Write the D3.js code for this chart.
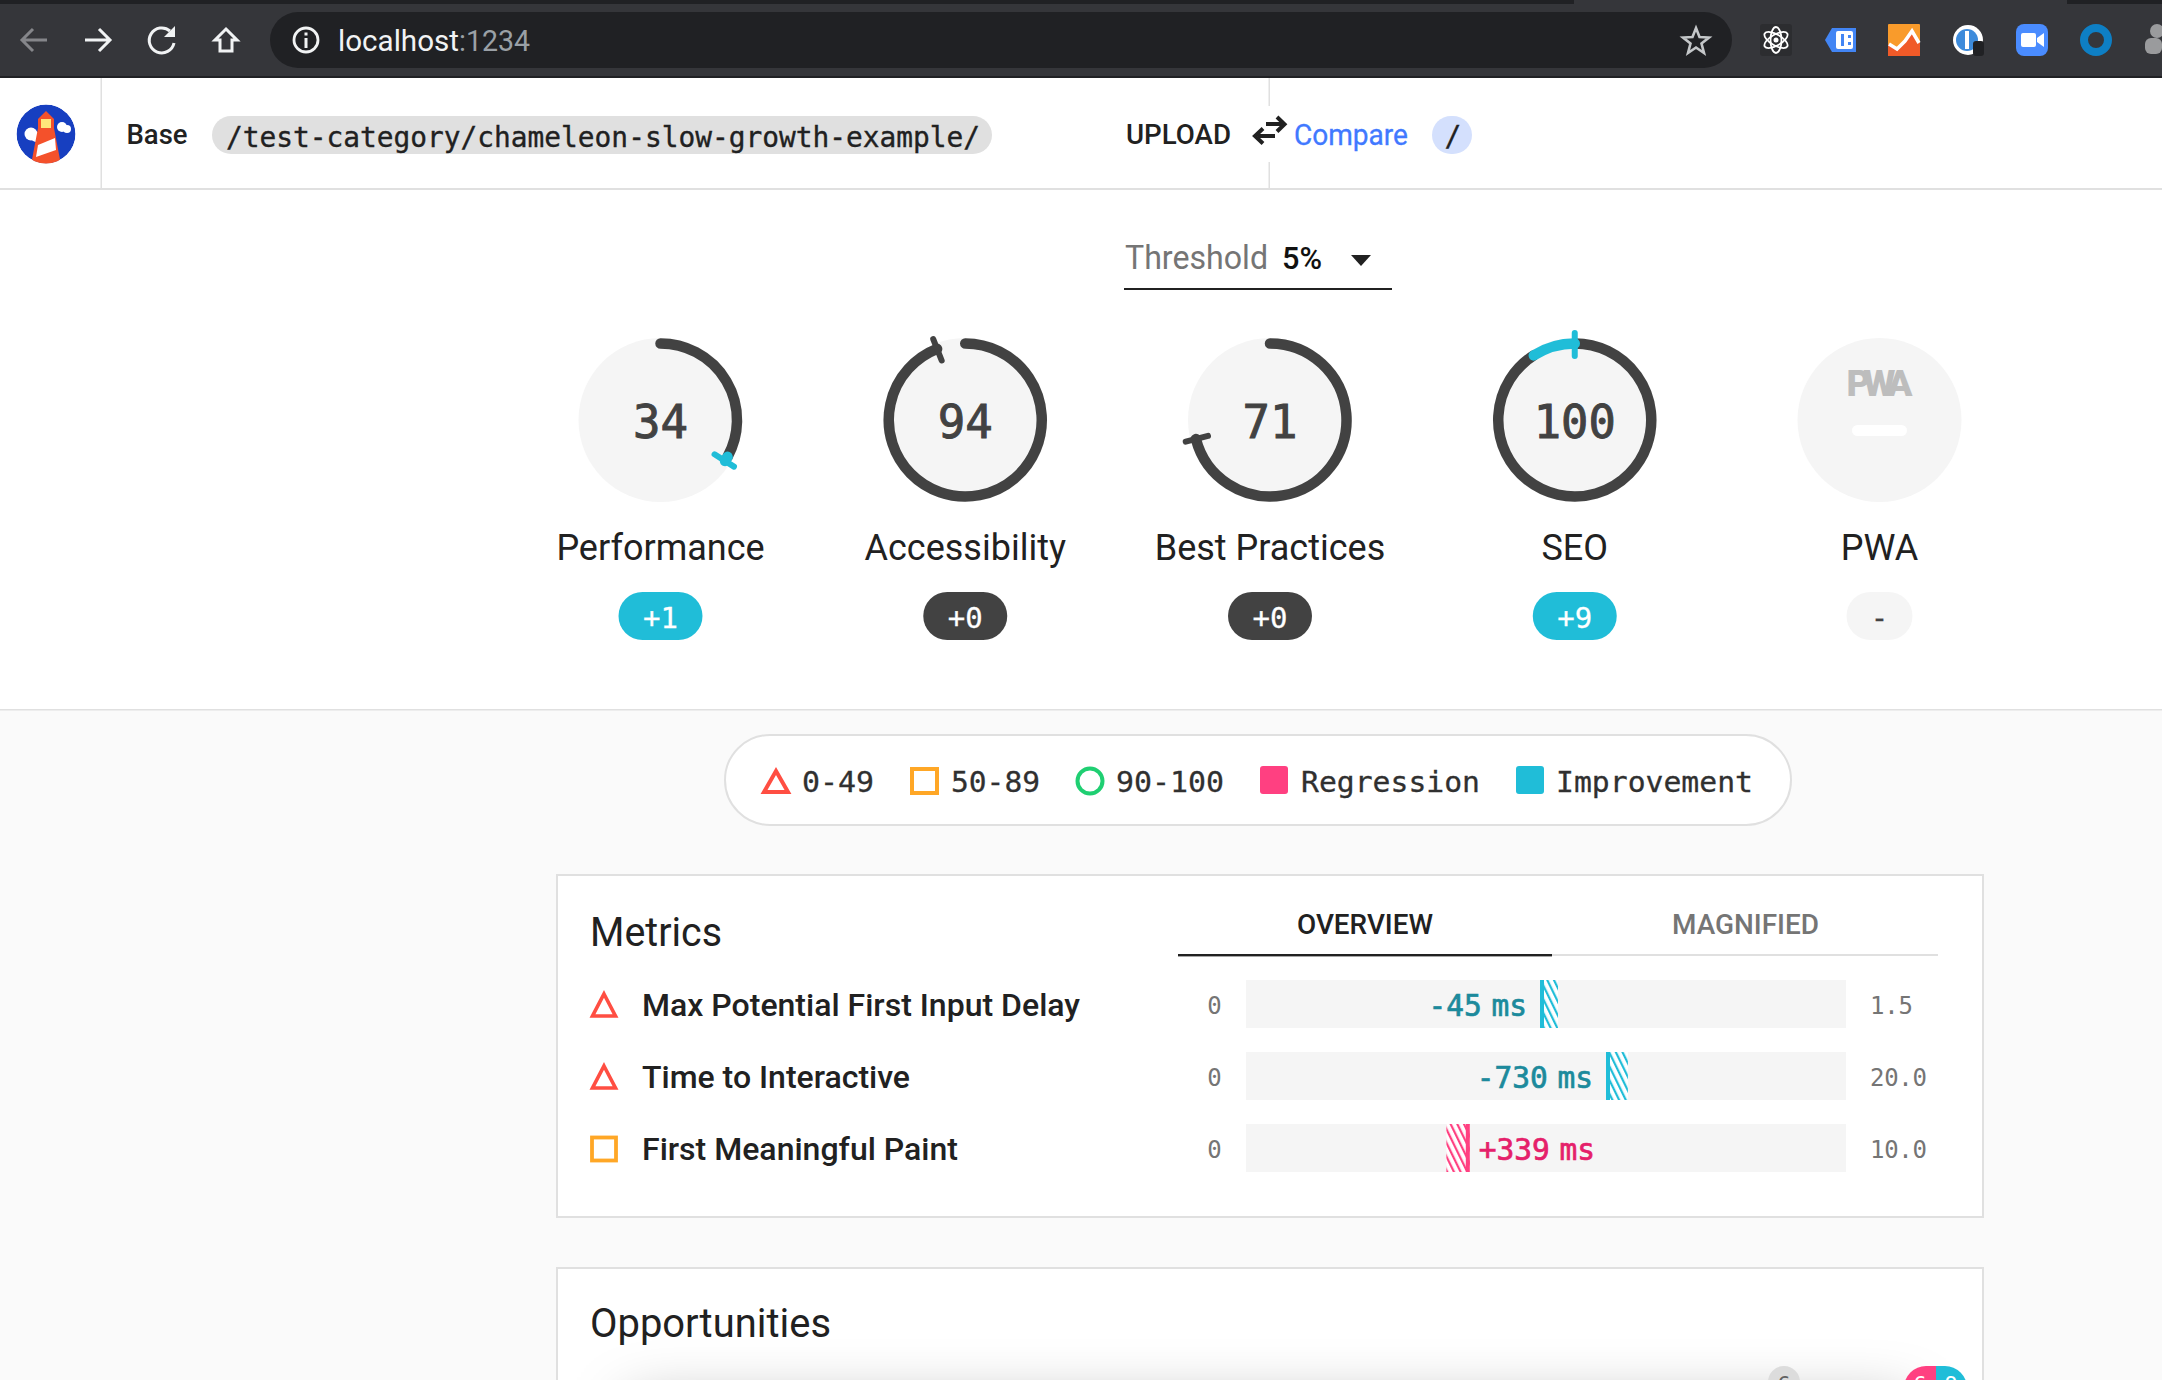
<!DOCTYPE html>
<html><head><meta charset="utf-8">
<script src="https://cdn.jsdelivr.net/npm/d3@7/dist/d3.min.js"></script>
<style>html,body{margin:0;padding:0;background:#fff;overflow:hidden}svg{display:block}</style>
</head><body><div id="c"></div>
<script>
const categories=["Performance","Accessibility","Best Practices","SEO","PWA"];
const scores=[34,94,71,100,null];
const diffs=[1,0,0,9,null];
const diffLabels=["+1","+0","+0","+9","-"];
const legendRanges=["0-49","50-89","90-100"];
const legendChanges=["Regression","Improvement"];
const metricNames=["Max Potential First Input Delay","Time to Interactive","First Meaningful Paint"];
const metricRating=["fail","fail","average"];
const metricCurrent=[0.735,12.0,3.73];
const metricBase=[0.78,12.73,3.34];
const metricMax=[1.5,20,10];
const metricMaxLabels=["1.5","20.0","10.0"];
const metricDeltaLabels=["-45 ms","-730 ms","+339 ms"];

const SANS="Roboto, sans-serif", MONO="'DejaVu Sans Mono', monospace";
const C={dark:"#424242",teal:"#20bdd8",pink:"#ff4081",red:"#ff4e42",orange:"#ffa726",green:"#1fcf72",gray:"#f5f5f5",line:"#e0e0e0",ink:"#212121"};
const svg=d3.select("#c").append("svg").attr("width",2162).attr("height",1380);
const defs=svg.append("defs");
function hatch(id,col){
  const p=defs.append("pattern").attr("id",id).attr("patternUnits","userSpaceOnUse").attr("width",6).attr("height",10).attr("patternTransform","rotate(-26)");
  p.append("rect").attr("width",6).attr("height",10).attr("fill","#fff");
  p.append("rect").attr("width",2.2).attr("height",10).attr("fill",col);
}
hatch("hTeal",C.teal);hatch("hPink",C.pink);
defs.append("filter").attr("id","blur").attr("x","-20%").attr("y","-100%").attr("width","140%").attr("height","300%").append("feGaussianBlur").attr("stdDeviation",30);
defs.append("clipPath").attr("id","logoClip").append("circle").attr("cx",46).attr("cy",134).attr("r",29.5);
defs.append("clipPath").attr("id","pillClip").append("rect").attr("x",1904).attr("y",1366).attr("width",63).attr("height",48).attr("rx",22).attr("ry",22);

function rect(g,x,y,w,h,fill,r,stroke,sw){const s=g.append("rect").attr("x",x).attr("y",y).attr("width",w).attr("height",h).attr("fill",fill);if(r)s.attr("rx",r).attr("ry",r);if(stroke)s.attr("stroke",stroke).attr("stroke-width",sw);return s;}
function text(g,x,y,str,o={}){
  const t=g.append("text").attr("x",x).attr("y",y).text(str).attr("font-family",o.f||SANS).attr("font-size",o.s||28).attr("fill",o.c||C.ink).attr("font-weight",o.w||400).attr("text-anchor",o.a||"start");
  if(o.len){t.attr("textLength",o.len).attr("lengthAdjust",o.adj||"spacingAndGlyphs");}
  if(o.heavy){t.attr("stroke",o.c||C.ink).attr("stroke-width",o.heavy);}
  if(o.ws){t.attr("word-spacing",o.ws);}
  return t;
}
function path(g,d,o={}){return g.append("path").attr("d",d).attr("fill",o.fill||"none").attr("stroke",o.stroke||"none").attr("stroke-width",o.sw||0).attr("stroke-linecap",o.cap||"butt").attr("stroke-linejoin",o.join||"miter");}

// page backgrounds
rect(svg,0,0,2162,1380,"#fff");
rect(svg,0,709,2162,671,"#fafafa");
rect(svg,0,709,2162,1.5,C.line);

// browser chrome
const chrome=svg.append("g");
rect(chrome,0,0,2162,78,"#35363a");
rect(chrome,0,0,1574,4,"#202124");
rect(chrome,2067,0,95,4,"#202124");
rect(chrome,0,76,2162,2,"#202124");
rect(chrome,270,12,1462,56,"#202124",28);
path(chrome,"M47,40H23M33,29L22,40L33,51",{stroke:"#85868a",sw:3});
path(chrome,"M85,40H109M99,29L110,40L99,51",{stroke:"#f1f3f4",sw:3});
path(chrome,"M170,31A12.5,12.5 0 1 0 174,43",{stroke:"#f1f3f4",sw:3});
path(chrome,"M175,26V37H164Z",{fill:"#f1f3f4"});
path(chrome,"M226,29L237,40H232V51H220V40H215Z",{stroke:"#f1f3f4",sw:3});
chrome.append("circle").attr("cx",306).attr("cy",40).attr("r",12).attr("fill","none").attr("stroke","#f1f3f4").attr("stroke-width",2.8);
rect(chrome,304.5,38,3,10,"#f1f3f4");rect(chrome,304.5,32.5,3,3,"#f1f3f4");
text(chrome,338,51,"localhost",{s:30,c:"#f1f3f4",len:121});
text(chrome,459,51,":1234",{s:30,c:"#9aa0a6",len:71});
path(chrome,"M1696,28L1699.5,37L1709,37.5L1701.5,43.5L1704,53L1696,47.5L1688,53L1690.5,43.5L1683,37.5L1692.5,37Z",{stroke:"#c4c7c9",sw:2.6});
// extension icons
const ext=chrome.append("g");
rect(ext,1760,24,32,32,"#2c2d30",3);
[0,60,120].forEach(a=>ext.append("ellipse").attr("cx",1776).attr("cy",40).attr("rx",13).attr("ry",5.5).attr("fill","none").attr("stroke","#fff").attr("stroke-width",1.8).attr("transform",`rotate(${a+30} 1776 40)`));
ext.append("circle").attr("cx",1776).attr("cy",40).attr("r",2.5).attr("fill","#fff");
path(ext,"M1825,40L1832,28H1856V52H1832Z",{fill:"#4285f4"});
rect(ext,1836,31,17,18,"#fff",2);rect(ext,1848,35,3,3,"#4285f4");rect(ext,1848,42,3,3,"#4285f4");rect(ext,1841,34,3,12,"#4285f4");
rect(ext,1888,24,32,32,"#f99b2b",1);
path(ext,"M1888,56V44L1896,49L1904,42L1912,30L1920,42V56Z",{fill:"#f05a28"});
path(ext,"M1889,44L1897,49L1905,41L1912,31L1919,43",{stroke:"#fff",sw:3.5});
ext.append("circle").attr("cx",1968).attr("cy",40).attr("r",15).attr("fill","#fff");
ext.append("circle").attr("cx",1967).attr("cy",40).attr("r",11).attr("fill","#3d8bdb");
rect(ext,1965,31,4,18,"#fff");
rect(ext,1973,41,11,15,"#202124",3);
rect(ext,2016,24,32,32,"#4a8cff",8);
rect(ext,2021,33,15,14,"#fff",2);path(ext,"M2037,38L2044,33V47L2037,42Z",{fill:"#fff"});
ext.append("circle").attr("cx",2096).attr("cy",40).attr("r",12).attr("fill","none").attr("stroke","#0e7fc4").attr("stroke-width",8);
ext.append("circle").attr("cx",2157).attr("cy",31).attr("r",7).attr("fill","#9a9b9d");
rect(ext,2145,38,17,16,"#9a9b9d",6);

// header
const head=svg.append("g");
rect(head,0,188,2162,2,C.line);
rect(head,100.5,78,1.5,110,C.line);
rect(head,1268.5,78,1.5,28,C.line);rect(head,1268.5,162,1.5,26,C.line);
const logo=head.append("g").attr("clip-path","url(#logoClip)");
logo.append("circle").attr("cx",46).attr("cy",134).attr("r",29.5).attr("fill","#173fc0");
logo.append("circle").attr("cx",31).attr("cy",134).attr("r",6.5).attr("fill","#fff");
logo.append("circle").attr("cx",36).attr("cy",137).attr("r",5).attr("fill","#fff");
logo.append("circle").attr("cx",62).attr("cy",127).attr("r",5).attr("fill","#fff");
logo.append("circle").attr("cx",67).attr("cy",129).attr("r",4).attr("fill","#fff");
path(logo,"M46,111L54,119V128L62,170H30L38,128V119Z",{fill:"#f4512b"});
rect(logo,41,119,10,9,"#ffe57a");
path(logo,"M38,145L55,138L56,150L36,157Z",{fill:"#fff"});
text(head,126.5,144,"Base",{s:27,w:500,len:61});
rect(head,212,116,780,38,C.line,19);
text(head,226,147,"/test-category/chameleon-slow-growth-example/",{f:MONO,s:28,len:754,heavy:.35});
text(head,1126,144,"UPLOAD",{s:28,w:500,len:105});
path(head,"M1266,124H1282M1277,117L1284.5,124.2L1277,131.5",{stroke:C.ink,sw:4});
path(head,"M1275,136H1258M1263,128.5L1255,136L1263,143.5",{stroke:C.ink,sw:4});
text(head,1294,145,"Compare",{s:29,c:"#4179ff",len:114,heavy:.3});
rect(head,1432,116,40,38,"#d4e0fd",19);
text(head,1453,146,"/",{f:MONO,s:28,a:"middle",heavy:.3});
text(head,1125,269,"Threshold",{s:33,c:"#757575",len:143});
text(head,1282,269,"5%",{s:32,w:500,c:"#111",len:40});
path(head,"M1351,255H1371L1361,266Z",{fill:C.ink});
rect(head,1124,288,268,2,C.ink);

// gauges
const gaugeX=d3.scalePoint().domain(categories).range([660.5,1879.5]);
const angle=d3.scaleLinear().domain([0,100]).range([-Math.PI/2,Math.PI*1.5]);
const gaugeR=76.5,gaugeCY=420;
function arcD(cx,a,b){const p=d3.path();p.arc(cx,gaugeCY,gaugeR,angle(a),angle(b));return p.toString();}
categories.forEach((cat,i)=>{
  const cx=gaugeX(cat),g=svg.append("g"),sc=scores[i],df=diffs[i];
  g.append("circle").attr("cx",cx).attr("cy",gaugeCY).attr("r",82).attr("fill",C.gray);
  if(sc!=null){
    const base=sc-df;
    path(g,arcD(cx,0,base),{stroke:C.dark,sw:10.5,cap:"round"});
    if(df>0)path(g,arcD(cx,base,sc),{stroke:C.teal,sw:10.5,cap:"round"});
    const a=angle(sc);
    g.append("line").attr("x1",cx+64*Math.cos(a)).attr("y1",gaugeCY+64*Math.sin(a)).attr("x2",cx+87*Math.cos(a)).attr("y2",gaugeCY+87*Math.sin(a)).attr("stroke",df>0?C.teal:C.dark).attr("stroke-width",6).attr("stroke-linecap","round");
    text(g,cx,438,String(sc),{f:MONO,s:47,c:C.dark,a:"middle",len:sc==100?82:55,heavy:1});
  } else {
    text(g,cx,396,"PWA",{s:37,w:900,c:"#bdbdbd",a:"middle",len:66,adj:"spacing"});
    rect(g,cx-27.5,425,55,11,"#fff",5.5);
  }
  text(g,cx,560,cat,{s:36,a:"middle"});
  const w=sc==null?66:84,col=sc==null?C.gray:(df>0?C.teal:C.dark);
  rect(g,cx-w/2,592,w,48,col,24);
  text(g,cx,628,diffLabels[i],{f:MONO,s:29,c:sc==null?C.dark:"#fff",a:"middle",heavy:.3});
});

// legend
const leg=svg.append("g");
rect(leg,725,735,1066,90,"#fff",45,C.line,2);
leg.append("path").attr("d","M776,771L788,792H764Z").attr("fill","none").attr("stroke",C.red).attr("stroke-width",4);
rect(leg,912,769,25,24,"none",0,C.orange,4);
leg.append("circle").attr("cx",1090).attr("cy",781).attr("r",12.5).attr("fill","none").attr("stroke",C.green).attr("stroke-width",4);
rect(leg,1260,766,28,28,C.pink,3);
rect(leg,1516,766,28,28,C.teal,3);
const legY=792;
text(leg,802,legY,legendRanges[0],{f:MONO,s:29,len:72,c:"#303030",heavy:.3});
text(leg,951,legY,legendRanges[1],{f:MONO,s:29,len:89,c:"#303030",heavy:.3});
text(leg,1116,legY,legendRanges[2],{f:MONO,s:29,len:108,c:"#303030",heavy:.3});
text(leg,1301,legY,legendChanges[0],{f:MONO,s:29,len:179,c:"#303030",heavy:.3});
text(leg,1556,legY,legendChanges[1],{f:MONO,s:29,len:197,c:"#303030",heavy:.3});

// metrics card
const card=svg.append("g");
rect(card,557,875,1426,342,"#fff",0,C.line,2);
text(card,590,946,"Metrics",{s:40,len:132});
text(card,1297,934,"OVERVIEW",{s:28,w:500,len:136,c:"#212121"});
text(card,1672,934,"MAGNIFIED",{s:28,w:500,c:"#757575",len:147});
rect(card,1178,954,760,2,C.line);
rect(card,1178,954,374,2.4,C.ink);

const rowY=d3.scalePoint().domain(metricNames).range([980,1124]);
metricNames.forEach((name,i)=>{
  const y=rowY(name),cy=y+25,g=card.append("g");
  if(metricRating[i]==="fail") g.append("path").attr("d",`M604,${cy-11}L615.5,${cy+11}H592.5Z`).attr("fill","none").attr("stroke",C.red).attr("stroke-width",3.6);
  else rect(g,592,cy-11.5,24,23,"none",0,C.orange,3.8);
  text(g,642,y+36,name,{s:32,w:500,len:[438,268,316][i]});
  text(g,1214.5,y+34,"0",{f:MONO,s:24,c:"#757575",a:"middle"});
  text(g,1870,y+34,metricMaxLabels[i],{f:MONO,s:24,c:"#757575",len:[43,57,57][i],adj:"spacing"});
  rect(g,1246,y,600,48,C.gray);
  const x=d3.scaleLinear().domain([0,metricMax[i]]).range([1246,1846]);
  const cur=x(metricCurrent[i]),base=x(metricBase[i]),better=metricCurrent[i]<metricBase[i];
  const lo=Math.min(cur,base),hi=Math.max(cur,base);
  rect(g,lo,y,hi-lo,48,`url(#${better?"hTeal":"hPink"})`);
  rect(g,cur-(better?0:4),y,4,48,better?C.teal:C.pink);
  if(better) text(g,lo-13,y+36,metricDeltaLabels[i],{f:MONO,s:29.5,c:"#1c8a9c",a:"end",ws:-8,heavy:.7});
  else text(g,hi+9,y+36,metricDeltaLabels[i],{f:MONO,s:29.5,c:"#e5206a",ws:-8,heavy:.7});
});

// opportunities card
const opp=svg.append("g");
rect(opp,557,1268,1426,140,"#fff",0,C.line,2);
text(opp,590,1337,"Opportunities",{s:40,len:241});
rect(opp,630,1405,1280,120,"rgba(0,0,0,.34)").attr("filter","url(#blur)");
opp.append("circle").attr("cx",1784).attr("cy",1382).attr("r",16).attr("fill","#dcdcdc");
text(opp,1784,1392,"6",{f:MONO,s:22,c:"#616161",a:"middle"});
const pill=opp.append("g").attr("clip-path","url(#pillClip)");
rect(pill,1904,1366,32,48,C.pink);
rect(pill,1936,1366,31,48,C.teal);
text(opp,1920,1392,"6",{f:MONO,s:22,c:"#fff",a:"middle"});
text(opp,1951,1392,"9",{f:MONO,s:22,c:"#fff",a:"middle"});
</script></body></html>
